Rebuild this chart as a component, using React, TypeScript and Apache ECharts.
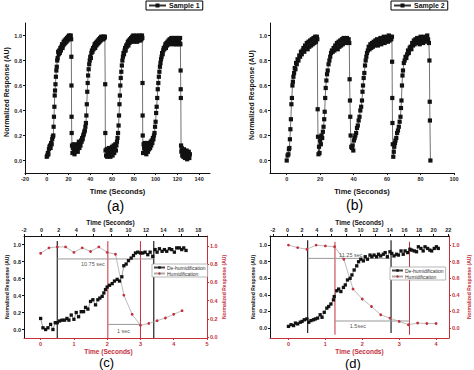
import React, { useEffect, useRef } from 'react';
import * as echarts from 'echarts';

const RED = '#c4303c';
const INK = '#111';
const FONT = '"Liberation Sans", Arial, sans-serif';

// ---------- Panel (a): Sample 1 ----------
const sample1: number[][] = [
  [0,0.03],[0.5,0.04],[1,0.06],[1.5,0.05],[2,0.09],[2.5,0.11],[3,0.12],[3.5,0.1],[4,0.14],[4.5,0.13],[5,0.17],[5.5,0.19],[6,0.2],[6.3,0.27],[6.6,0.35],[7,0.43],[7.3,0.52],[7.6,0.56],[8,0.61],[8.4,0.67],[8.8,0.72],[9.2,0.75],[9.6,0.8],[10,0.82],[10.5,0.87],[11,0.85],[11.5,0.88],[12,0.86],[12.5,0.9],[13,0.88],[13.5,0.91],[14,0.93],[14.5,0.9],[15,0.92],[15.5,0.95],[16,0.93],[16.5,0.96],[17,0.94],[17.5,0.97],[18,0.95],[18.5,0.98],[19,0.96],[19.5,0.99],[20,0.97],[20.5,1.0],[21,0.98],[21.5,0.99],[22,1.0],[22.4,0.97],[22.6,0.83],[22.7,0.6],[22.8,0.35],[22.9,0.22],[23.2,0.12],[23.6,0.06],[24,0.1],[24.5,0.13],[25,0.08],[25.5,0.05],[26,0.1],[26.5,0.07],[27,0.12],[27.5,0.09],[28,0.13],[28.5,0.07],[29,0.11],[29.5,0.15],[30,0.1],[30.5,0.14],[31,0.12],[31.5,0.16],[32,0.15],[32.5,0.18],[33,0.17],[33.5,0.2],[34,0.21],[34.5,0.23],[35,0.24],[35.5,0.27],[36,0.3],[36.4,0.36],[36.8,0.45],[37.2,0.55],[37.6,0.62],[38,0.68],[38.5,0.73],[39,0.77],[39.5,0.8],[40,0.83],[40.5,0.82],[41,0.86],[41.5,0.88],[42,0.87],[42.5,0.9],[43,0.89],[43.5,0.91],[44,0.93],[44.5,0.9],[45,0.94],[45.5,0.92],[46,0.95],[46.5,0.93],[47,0.96],[47.5,0.94],[48,0.97],[48.5,0.95],[49,0.98],[49.5,0.96],[50,0.99],[50.5,0.97],[51,0.98],[51.5,0.99],[52,0.97],[52.5,0.99],[53,0.98],[53.4,0.99],[53.7,0.61],[53.8,0.22],[54,0.08],[54.5,0.04],[55,0.09],[55.5,0.03],[56,0.07],[56.5,0.05],[57,0.1],[57.5,0.04],[58,0.08],[58.5,0.03],[59,0.09],[59.5,0.06],[60,0.11],[60.5,0.04],[61,0.08],[61.5,0.12],[62,0.06],[62.5,0.1],[63,0.13],[63.5,0.08],[64,0.12],[64.5,0.15],[65,0.18],[65.5,0.22],[66,0.28],[66.4,0.36],[66.8,0.45],[67.2,0.52],[67.6,0.6],[68,0.66],[68.5,0.71],[69,0.76],[69.5,0.8],[70,0.83],[70.5,0.86],[71,0.85],[71.5,0.88],[72,0.9],[72.5,0.88],[73,0.92],[73.5,0.91],[74,0.93],[74.5,0.95],[75,0.92],[75.5,0.96],[76,0.94],[76.5,0.97],[77,0.95],[77.5,0.98],[78,0.96],[78.5,0.99],[79,0.97],[79.5,1.0],[80,0.95],[80.5,0.98],[81,0.96],[81.5,0.99],[82,0.97],[82.5,1.0],[83,0.95],[83.5,0.98],[84,0.96],[84.5,0.99],[85,0.97],[85.5,1.0],[86,0.96],[86.5,0.99],[87,0.97],[87.5,1.0],[87.8,0.98],[88,0.62],[88.1,0.36],[88.2,0.2],[88.5,0.06],[89,0.13],[89.5,0.1],[90,0.14],[90.5,0.08],[91,0.12],[91.5,0.05],[92,0.11],[92.5,0.14],[93,0.07],[93.5,0.12],[94,0.09],[94.5,0.13],[95,0.1],[95.5,0.15],[96,0.12],[96.5,0.16],[97,0.14],[97.5,0.18],[98,0.17],[98.5,0.2],[99,0.22],[99.5,0.27],[100,0.31],[100.5,0.38],[101,0.43],[101.5,0.5],[102,0.57],[102.5,0.62],[103,0.67],[103.5,0.71],[104,0.75],[104.5,0.78],[105,0.81],[105.5,0.83],[106,0.86],[106.5,0.85],[107,0.88],[107.5,0.9],[108,0.89],[108.5,0.91],[109,0.93],[109.5,0.9],[110,0.94],[110.5,0.92],[111,0.95],[111.5,0.93],[112,0.96],[112.5,0.94],[113,0.97],[113.5,0.93],[114,0.96],[114.5,0.98],[115,0.94],[115.5,0.97],[116,0.95],[116.5,0.98],[117,0.93],[117.5,0.97],[118,0.95],[118.5,0.98],[119,0.93],[119.5,0.97],[120,0.95],[120.5,0.98],[121,0.93],[121.5,0.97],[122,0.94],[122.5,0.98],[122.8,0.93],[123,0.72],[123.1,0.57],[123.2,0.5],[123.4,0.12],[123.7,0.07],[124,0.1],[124.5,0.04],[125,0.08],[125.5,0.03],[126,0.09],[126.5,0.05],[127,0.02],[127.5,0.07],[128,0.04],[128.5,0.08],[129,0.01],[129.5,0.06],[130,0.03],[130.5,0.07],[131,0.02],[131.5,0.05]
];

// ---------- Panel (b): Sample 2 ----------
const sample2: number[][] = [
  [0,0.0],[0.5,0.04],[1,0.05],[1.3,0.09],[1.6,0.1],[1.9,0.17],[2.2,0.25],[2.5,0.33],[2.8,0.45],[3.1,0.5],[3.4,0.6],[3.7,0.63],[4,0.67],[4.4,0.7],[4.8,0.74],[5.2,0.73],[5.6,0.78],[6,0.77],[6.5,0.81],[7,0.8],[7.5,0.84],[8,0.83],[8.5,0.87],[9,0.85],[9.5,0.88],[10,0.9],[10.5,0.87],[11,0.92],[11.5,0.9],[12,0.94],[12.5,0.89],[13,0.95],[13.5,0.91],[14,0.96],[14.5,0.92],[15,0.97],[15.5,0.93],[16,0.98],[16.5,0.94],[17,0.99],[17.5,0.95],[18,0.99],[18.3,0.97],[18.5,0.41],[18.7,0.19],[19,0.05],[19.3,0.11],[19.6,0.06],[20,0.16],[20.4,0.13],[20.8,0.2],[21.2,0.18],[21.6,0.23],[22,0.27],[22.4,0.33],[22.7,0.39],[23,0.5],[23.3,0.58],[23.7,0.64],[24.1,0.69],[24.5,0.72],[25,0.77],[25.5,0.8],[26,0.83],[26.5,0.86],[27,0.88],[27.5,0.87],[28,0.9],[28.5,0.88],[29,0.92],[29.5,0.9],[30,0.94],[30.5,0.89],[31,0.95],[31.5,0.91],[32,0.96],[32.5,0.92],[33,0.97],[33.5,0.93],[34,0.98],[34.5,0.95],[35,0.97],[35.5,0.94],[36,0.98],[36.5,0.95],[37,0.97],[37.4,0.94],[37.6,0.65],[37.8,0.48],[38,0.35],[38.2,0.2],[38.6,0.11],[39,0.1],[39.4,0.12],[39.8,0.08],[40.2,0.16],[40.6,0.18],[41,0.2],[41.5,0.22],[42,0.26],[42.5,0.28],[43,0.32],[43.5,0.35],[44,0.4],[44.5,0.43],[45,0.48],[45.3,0.55],[45.6,0.6],[46,0.66],[46.4,0.7],[46.8,0.76],[47.2,0.8],[47.6,0.83],[48,0.86],[48.5,0.88],[49,0.91],[49.5,0.89],[50,0.93],[50.5,0.9],[51,0.94],[51.5,0.91],[52,0.95],[52.5,0.92],[53,0.96],[53.5,0.93],[54,0.97],[54.5,0.92],[55,0.96],[55.5,0.94],[56,0.98],[56.5,0.93],[57,0.97],[57.5,0.95],[58,0.99],[58.5,0.94],[59,0.98],[59.5,0.96],[60,0.99],[60.5,0.95],[61,1.0],[61.5,0.96],[62,0.99],[62.5,0.97],[62.9,0.99],[63,0.79],[63.1,0.5],[63.2,0.3],[63.4,0.13],[63.7,0.03],[64,0.07],[64.3,0.11],[64.7,0.14],[65,0.16],[65.5,0.18],[66,0.22],[66.5,0.24],[67,0.27],[67.5,0.31],[68,0.35],[68.3,0.42],[68.6,0.48],[68.9,0.6],[69.2,0.68],[69.5,0.72],[70,0.78],[70.5,0.8],[71,0.83],[71.5,0.82],[72,0.85],[72.5,0.88],[73,0.86],[73.5,0.9],[74,0.91],[74.5,0.89],[75,0.94],[75.5,0.92],[76,0.96],[76.5,0.93],[77,0.97],[77.5,0.94],[78,0.98],[78.5,0.95],[79,0.97],[79.5,0.93],[80,0.99],[80.5,0.96],[81,0.98],[81.5,0.94],[82,0.99],[82.5,0.95],[83,0.98],[83.5,0.96],[84,1.0],[84.5,0.97],[85,0.94],[85.3,0.8],[85.5,0.47],[85.6,0.32],[85.9,0.0]
];

// ---------- Panel (c) ----------
const cDehum: number[][] = [
  [0,0.13],[0.07,0.02],[0.15,0.0],[0.22,0.02],[0.3,0.06],[0.37,0.0],[0.44,0.08],[0.5,0.08],[0.57,0.1],[0.64,0.11],[0.72,0.11],[0.79,0.13],[0.85,0.11],[0.92,0.17],[1.0,0.12],[1.07,0.2],[1.14,0.15],[1.22,0.21],[1.29,0.21],[1.35,0.26],[1.42,0.24],[1.5,0.33],[1.57,0.35],[1.65,0.29],[1.72,0.35],[1.78,0.37],[1.85,0.39],[1.9,0.43],[1.95,0.47],[2.0,0.5],[2.07,0.52],[2.15,0.54],[2.22,0.57],[2.3,0.59],[2.37,0.57],[2.44,0.62],[2.5,0.75],[2.57,0.77],[2.64,0.81],[2.72,0.84],[2.79,0.87],[2.85,0.9],[2.92,0.91],[3.0,0.9],[3.07,0.9],[3.14,0.91],[3.22,0.88],[3.29,0.91],[3.37,0.86],[3.44,0.94],[3.5,0.91],[3.57,0.95],[3.65,0.92],[3.72,0.94],[3.79,0.92],[3.87,0.95],[3.94,0.94],[4.02,0.91],[4.09,0.96],[4.17,0.96],[4.24,0.94],[4.3,0.96],[4.37,0.93]
];
const cHumT: number[] = [0,0.25,0.5,0.75,1,1.25,1.5,1.75,2,2.25,2.5,2.75,3,3.25,3.5,3.75,4,4.25];
const cHumV: number[] = [0.92,0.98,0.99,0.99,0.93,0.98,0.94,0.99,0.93,0.91,0.46,0.25,0.13,0.15,0.18,0.21,0.25,0.29];
const cBlackV: number[] = [0.5, 3.4];
const cRedV: number[] = [2.02, 3.0];

// ---------- Panel (d) ----------
const dDehum: number[][] = [
  [0,0.02],[0.07,0.04],[0.14,0.03],[0.19,0.06],[0.25,0.05],[0.32,0.07],[0.37,0.08],[0.43,0.1],[0.5,0.11],[0.55,0.07],[0.61,0.09],[0.68,0.1],[0.73,0.11],[0.79,0.12],[0.86,0.16],[0.91,0.13],[0.97,0.19],[1.04,0.24],[1.09,0.26],[1.15,0.29],[1.22,0.34],[1.24,0.38],[1.31,0.45],[1.36,0.47],[1.42,0.44],[1.49,0.49],[1.54,0.52],[1.6,0.58],[1.67,0.6],[1.72,0.64],[1.78,0.7],[1.85,0.75],[1.9,0.8],[1.96,0.83],[2.03,0.81],[2.08,0.86],[2.14,0.83],[2.21,0.88],[2.26,0.86],[2.32,0.88],[2.39,0.86],[2.44,0.89],[2.5,0.87],[2.57,0.89],[2.62,0.91],[2.68,0.86],[2.75,0.92],[2.8,0.9],[2.86,0.87],[2.93,0.89],[2.98,0.88],[3.05,0.93],[3.11,0.89],[3.16,0.93],[3.23,0.91],[3.29,0.95],[3.34,0.94],[3.41,0.93],[3.47,0.92],[3.52,0.98],[3.59,0.96],[3.65,0.93],[3.7,0.98],[3.77,0.96],[3.83,0.94],[3.88,0.93],[3.95,0.96],[4.01,0.98],[4.06,0.96]
];
const dHumT: number[] = [0,0.25,0.5,0.75,1,1.25,1.5,1.75,2,2.25,2.5,2.75,3,3.25,3.5,3.75,4];
const dHumV: number[] = [1.0,0.97,0.95,1.0,0.99,0.98,0.83,0.47,0.35,0.26,0.16,0.12,0.08,0.04,0.06,0.055,0.055];
const dBlackV: number[] = [0.52, 2.78];
const dRedV: number[] = [1.26, 3.28];

const yTicks = [0, 0.2, 0.4, 0.6, 0.8, 1.0];

function axis(o: any): any {
  const color = o.color || INK;
  return {
    type: 'value',
    gridIndex: o.grid,
    position: o.position,
    min: o.min,
    max: o.max,
    axisLine: { show: true, onZero: false, lineStyle: { color, width: 1 } },
    axisTick: { show: true, length: 2, inside: false, customValues: o.ticks, lineStyle: { color, width: 1 } },
    axisLabel: {
      show: true, customValues: o.ticks, fontSize: o.fs || 5.5, fontWeight: 'bold', fontFamily: FONT,
      color: o.labelColor || (o.color ? color : '#222'), margin: 3,
      formatter: o.fmt || ((v: number) => String(v)),
    },
    splitLine: { show: false },
    minorTick: { show: false },
    name: o.name,
    nameLocation: 'middle',
    nameGap: o.nameGap,
    nameTextStyle: { fontSize: o.nfs || 7, fontWeight: 'bold', fontFamily: FONT, color: o.nameColor || INK, padding: o.namePad || 0 },
  };
}

const f1 = (v: number) => v.toFixed(1);

function dataSeries(name: string, data: number[][], xi: number, yi: number, symbol: string, mc: string, lc: string, size: number, lw: number): any {
  return {
    type: 'line', name, data, xAxisIndex: xi, yAxisIndex: yi,
    symbol, symbolSize: size, showSymbol: true,
    itemStyle: { color: mc }, lineStyle: { color: lc, width: lw },
    emphasis: { disabled: true }, z: 3,
  };
}

function seg(data: number[][], xi: number, yi: number, color: string, width: number): any {
  return {
    type: 'line', data, xAxisIndex: xi, yAxisIndex: yi, symbol: 'none',
    lineStyle: { color, width }, silent: true, z: 2,
  };
}

function note(text: string, x: number, y: number, xi: number, yi: number): any {
  return {
    type: 'scatter', data: [[x, y]], xAxisIndex: xi, yAxisIndex: yi, symbolSize: 0, silent: true, z: 4,
    label: { show: true, position: 'inside', formatter: text, fontSize: 5.5, fontFamily: FONT, color: '#222' },
  };
}

export default function App() {
  const ref = useRef<HTMLDivElement>(null);
  useEffect(() => {
    if (!ref.current) return;
    const chart = echarts.init(ref.current, null, { renderer: 'svg' });

    const xAxis = [
      axis({ grid: 0, min: -20, max: 150, ticks: [-20, 0, 20, 40, 60, 80, 100, 120, 140], name: 'Time (Seconds)', nameGap: 14, nfs: 7.5 }),
      axis({ grid: 1, min: -10, max: 100, ticks: [0, 20, 40, 60, 80, 100], name: 'Time (Seconds)', nameGap: 14, nfs: 7.5 }),
      axis({ grid: 2, position: 'bottom', min: -0.5, max: 5, ticks: [0, 1, 2, 3, 4, 5], color: RED, name: 'Time (Seconds)', nameGap: 7, nfs: 6.5, nameColor: RED, namePad: [0, 14, 0, 0] }),
      axis({ grid: 2, position: 'top', min: -2, max: 19, ticks: [-2, 0, 2, 4, 6, 8, 10, 12, 14, 16, 18], name: 'Time (Seconds)', nameGap: 8, nfs: 6.5, namePad: [0, 10, 0, 0] }),
      axis({ grid: 3, position: 'bottom', min: -0.5, max: 4.35, ticks: [0, 1, 2, 3, 4], color: RED, name: 'Time (Seconds)', nameGap: 7, nfs: 6.5, nameColor: RED }),
      axis({ grid: 3, position: 'top', min: -2.4, max: 22.1, ticks: [-2, 0, 2, 4, 6, 8, 10, 12, 14, 16, 18, 20, 22], name: 'Time (Seconds)', nameGap: 8, nfs: 6.5 }),
    ];
    const yAxis = [
      axis({ grid: 0, min: -0.1, max: 1.1, ticks: yTicks, fmt: f1, name: 'Normalized Response (AU)', nameGap: 15, namePad: [0, 0, 0, 12] }),
      axis({ grid: 1, min: -0.1, max: 1.1, ticks: yTicks, fmt: f1, name: 'Normalized Response (AU)', nameGap: 15, namePad: [0, 0, 0, 6] }),
      axis({ grid: 2, position: 'left', min: -0.1, max: 1.1, ticks: yTicks, fmt: f1, name: 'Normalized Response (AU)', nameGap: 15, nfs: 5 }),
      axis({ grid: 2, position: 'right', min: -0.01, max: 1.11, ticks: yTicks, fmt: f1, color: RED, name: 'Normalized Response (AU)', nameGap: 13, nfs: 5, nameColor: RED }),
      axis({ grid: 3, position: 'left', min: -0.12, max: 1.11, ticks: yTicks, fmt: f1, name: 'Normalized Response (AU)', nameGap: 14, nfs: 5 }),
      axis({ grid: 3, position: 'right', min: -0.12, max: 1.11, ticks: yTicks, fmt: f1, color: RED, name: 'Normalized Response (AU)', nameGap: 17, nfs: 5, nameColor: RED }),
    ];

    const pair = (t: number[], v: number[]) => t.map((x, i) => [x, v[i]]);

    const series: any[] = [
      dataSeries('Sample 1', sample1, 0, 0, 'rect', INK, '#333', 4.2, 0.7),
      dataSeries('Sample 2', sample2, 1, 1, 'rect', INK, '#333', 4.2, 0.7),
      // (c)
      ...cBlackV.map((x) => seg([[x, -0.1], [x, 1.04]], 2, 2, '#222', 1.2)),
      ...cRedV.map((x) => seg([[x, -0.1], [x, 1.04]], 2, 2, RED, 1)),
      seg([[cBlackV[0], 0.83], [cBlackV[1], 0.83]], 2, 2, '#999', 1),
      seg([[cRedV[0], 0.06], [cRedV[1], 0.06]], 2, 2, '#999', 1),
      dataSeries('De-humidification', cDehum, 2, 2, 'rect', INK, '#444', 3.3, 0.5),
      dataSeries('Humidification', pair(cHumT, cHumV), 2, 3, 'circle', RED, '#aaa', 2.8, 0.8),
      note('10.75 sec', 1.57, 0.77, 2, 2),
      note('1 sec', 2.49, -0.02, 2, 2),
      // (d)
      ...dBlackV.map((x) => seg([[x, -0.06], [x, 1.06]], 4, 4, '#222', 1.2)),
      ...dRedV.map((x) => seg([[x, -0.08], [x, 1.04]], 4, 4, RED, 1)),
      seg([[dBlackV[0], 0.84], [dBlackV[1], 0.84]], 4, 4, '#999', 1),
      seg([[dRedV[0], 0.085], [dRedV[1], 0.085]], 4, 4, '#999', 1),
      dataSeries('De-humidification', dDehum, 4, 4, 'rect', INK, '#444', 3.3, 0.5),
      dataSeries('Humidification', pair(dHumT, dHumV), 4, 5, 'circle', RED, '#aaa', 2.8, 0.8),
      note('11.25 sec', 1.69, 0.885, 4, 4),
      note('1.5sec', 1.88, 0.02, 4, 4),
    ];

    const topLegend = (name: string, left: number) => ({
      data: [name], left, top: 1, itemWidth: 17, itemHeight: 5, itemGap: 2,
      padding: [1, 3, 1, 2], borderColor: '#000', borderWidth: 1, backgroundColor: '#fff',
      textStyle: { fontSize: 7, fontWeight: 'bold', fontFamily: FONT, color: INK, padding: [0, 0, 0, -2] },
      selectedMode: false,
    });
    const botLegend = (left: number, top: number) => ({
      data: ['De-humidification', 'Humidification'], left, top, orient: 'vertical',
      itemWidth: 11, itemHeight: 3, itemGap: 1, padding: [1, 2, 1, 1],
      borderColor: '#999', borderWidth: 0.7, backgroundColor: '#fff',
      textStyle: { fontSize: 5, fontFamily: FONT, color: '#333', padding: [0, 0, 0, -3] },
      selectedMode: false,
    });

    chart.setOption({
      animation: false,
      backgroundColor: '#fff',
      grid: [
        { left: 25, top: 23, width: 185, height: 150, outerBoundsMode: 'none' },
        { left: 270, top: 23, width: 184, height: 150, outerBoundsMode: 'none' },
        { left: 24, top: 236, width: 183, height: 102, outerBoundsMode: 'none' },
        { left: 270, top: 236, width: 179, height: 102, outerBoundsMode: 'none' },
      ],
      xAxis,
      yAxis,
      legend: [topLegend('Sample 1', 146), topLegend('Sample 2', 391), botLegend(152, 264), botLegend(390, 267)],
      graphic: [
        { type: 'text', left: 107, top: 199, style: { text: '(a)', fontSize: 14, fontFamily: FONT, fill: '#000' } },
        { type: 'text', left: 346, top: 198, style: { text: '(b)', fontSize: 14, fontFamily: FONT, fill: '#000' } },
        { type: 'text', left: 99, top: 356, style: { text: '(c)', fontSize: 13, fontFamily: FONT, fill: '#000' } },
        { type: 'text', left: 345, top: 357, style: { text: '(d)', fontSize: 13, fontFamily: FONT, fill: '#000' } },
      ],
      series,
    });
    return () => chart.dispose();
  }, []);
  return <div ref={ref} style={{ width: 474, height: 370, position: 'absolute', left: 0, top: 0 }} />;
}
